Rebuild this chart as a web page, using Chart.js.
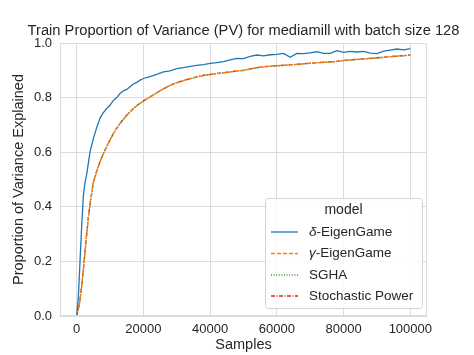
<!DOCTYPE html>
<html>
<head>
<meta charset="utf-8">
<script src="https://cdn.jsdelivr.net/npm/chart.js@4.4.1/dist/chart.umd.min.js"></script>
<style>
  html, body { margin: 0; padding: 0; background: #ffffff; }
  #wrap { width: 474px; height: 355px; position: relative; }
</style>
</head>
<body>
<div id="wrap"><canvas id="c" width="474" height="355"></canvas></div>
<script>
// ---- data ----
const samples = [0, 500, 1000, 1500, 2000, 2500, 3000, 3500, 4000,
  5000, 6000, 7000, 8000, 9000, 10000, 11000, 12000, 13000, 14000, 15000, 16000, 17000, 18000, 19000, 20000,
  22000, 24000, 26000, 28000, 30000, 32000, 34000, 36000, 38000, 40000, 42000, 44000, 46000, 48000, 50000,
  52000, 54000, 56000, 58000, 60000, 62000, 64000, 66000, 68000, 70000, 72000, 74000, 76000, 78000, 80000,
  82000, 84000, 86000, 88000, 90000, 92000, 94000, 96000, 98000, 100000];

const deltaEigenGame = [0, 0.07, 0.2, 0.33, 0.44, 0.49, 0.52, 0.56, 0.6,
  0.65, 0.69, 0.725, 0.745, 0.76, 0.772, 0.79, 0.8, 0.815, 0.825, 0.83, 0.84, 0.85, 0.856, 0.864, 0.87,
  0.877, 0.885, 0.894, 0.898, 0.906, 0.91, 0.914, 0.918, 0.921, 0.925, 0.928, 0.932, 0.938, 0.944, 0.943,
  0.951, 0.956, 0.953, 0.957, 0.958, 0.962, 0.948, 0.962, 0.961, 0.964, 0.968, 0.962, 0.962, 0.972, 0.966,
  0.969, 0.967, 0.969, 0.963, 0.961, 0.97, 0.974, 0.978, 0.975, 0.979];

const gammaEigenGame = [0, 0.025, 0.06, 0.11, 0.17, 0.235, 0.3, 0.36, 0.41,
  0.49, 0.53, 0.565, 0.595, 0.62, 0.645, 0.668, 0.688, 0.705, 0.72, 0.735, 0.748, 0.76, 0.77, 0.779, 0.787,
  0.803, 0.818, 0.832, 0.845, 0.855, 0.862, 0.869, 0.876, 0.881, 0.885, 0.888, 0.891, 0.894, 0.897, 0.9,
  0.905, 0.91, 0.913, 0.915, 0.917, 0.918, 0.92, 0.922, 0.924, 0.926, 0.928, 0.929, 0.93, 0.933, 0.936,
  0.938, 0.94, 0.942, 0.944, 0.946, 0.948, 0.95, 0.952, 0.954, 0.956];

const sgha = [0, 0.024, 0.059, 0.109, 0.169, 0.234, 0.299, 0.359, 0.409,
  0.489, 0.531, 0.564, 0.594, 0.621, 0.644, 0.667, 0.689, 0.704, 0.721, 0.734, 0.747, 0.761, 0.769, 0.78, 0.786,
  0.802, 0.817, 0.833, 0.844, 0.854, 0.863, 0.868, 0.875, 0.88, 0.884, 0.889, 0.89, 0.895, 0.896, 0.899,
  0.904, 0.909, 0.912, 0.914, 0.916, 0.917, 0.921, 0.921, 0.923, 0.925, 0.927, 0.93, 0.929, 0.932, 0.935,
  0.937, 0.939, 0.941, 0.943, 0.945, 0.947, 0.949, 0.951, 0.953, 0.955];

const stochasticPower = [0, 0.025, 0.06, 0.11, 0.17, 0.236, 0.3, 0.361, 0.41,
  0.49, 0.53, 0.566, 0.595, 0.62, 0.646, 0.668, 0.688, 0.706, 0.72, 0.736, 0.748, 0.76, 0.771, 0.779, 0.788,
  0.803, 0.818, 0.832, 0.845, 0.856, 0.862, 0.87, 0.876, 0.882, 0.885, 0.888, 0.892, 0.894, 0.898, 0.9,
  0.905, 0.91, 0.913, 0.916, 0.917, 0.919, 0.92, 0.922, 0.924, 0.926, 0.928, 0.929, 0.931, 0.933, 0.936,
  0.938, 0.94, 0.942, 0.944, 0.946, 0.948, 0.95, 0.952, 0.954, 0.956];

const seriesNames = ['δ-EigenGame', 'γ-EigenGame', 'SGHA', 'Stochastic Power'];
const xTickValues = [0, 20000, 40000, 60000, 80000, 100000];
const yTickValues = [0, 0.2, 0.4, 0.6, 0.8, 1.0];
const chartTitle = 'Train Proportion of Variance (PV) for mediamill with batch size 128';
const legendTitle = 'model';

// ---- chart ----
const FONT = '"Liberation Sans", Arial, sans-serif';
const TEXT = '#262626';
const GRID = '#dcdcdc';

function pts(arr) { return samples.map((x, i) => ({ x: x, y: arr[i] })); }

const styles = [
  { color: '#1f77b4', dash: [] },
  { color: '#ff7f0e', dash: [4, 2] },
  { color: '#2ca02c', dash: [1, 1.6] },
  { color: '#d62728', dash: [4, 1.5, 1, 1.5] }
];
const seriesData = [deltaEigenGame, gammaEigenGame, sgha, stochasticPower];

const datasets = seriesData.map((arr, i) => ({
  label: seriesNames[i],
  data: pts(arr),
  borderColor: styles[i].color,
  borderDash: styles[i].dash,
  borderWidth: 1.3,
  pointRadius: 0,
  fill: false,
  tension: 0
}));

const framePlugin = {
  id: 'frameAndLegend',
  afterDraw(chart) {
    const ctx = chart.ctx;
    const ca = chart.chartArea;
    ctx.save();
    // frame
    ctx.strokeStyle = GRID;
    ctx.lineWidth = 1;
    ctx.strokeRect(Math.round(ca.left) + 0.5, Math.round(ca.top) + 0.5,
      Math.round(ca.right - ca.left) - 1, Math.round(ca.bottom - ca.top) - 1);

    // title centred over the axes
    ctx.fillStyle = TEXT;
    ctx.font = '14.7px ' + FONT;
    ctx.textAlign = 'center';
    ctx.textBaseline = 'middle';
    ctx.fillText(chartTitle, (ca.left + ca.right) / 2, ca.top - 12);

    // legend
    const bw = 157, bh = 110;
    const bx = ca.right - 5 - bw, by = ca.bottom - 8 - bh;
    ctx.beginPath();
    if (ctx.roundRect) ctx.roundRect(bx + 0.5, by + 0.5, bw, bh, 3);
    else ctx.rect(bx + 0.5, by + 0.5, bw, bh);
    ctx.fillStyle = 'rgba(255,255,255,0.85)';
    ctx.fill();
    ctx.strokeStyle = '#d4d4d4';
    ctx.lineWidth = 1;
    ctx.stroke();

    ctx.fillStyle = TEXT;
    ctx.textBaseline = 'middle';
    ctx.textAlign = 'center';
    ctx.font = '14px ' + FONT;
    ctx.fillText(legendTitle, bx + bw / 2, by + 12);

    ctx.textAlign = 'left';
    const rowY = [34, 55.5, 77, 98];
    chart.data.datasets.forEach((ds, i) => {
      const y = by + rowY[i];
      ctx.beginPath();
      ctx.setLineDash(ds.borderDash);
      ctx.strokeStyle = ds.borderColor;
      ctx.lineWidth = 1.3;
      ctx.moveTo(bx + 6, y);
      ctx.lineTo(bx + 33, y);
      ctx.stroke();
      ctx.setLineDash([]);
      ctx.fillStyle = TEXT;
      const label = ds.label;
      const tx = bx + 44;
      const first = label.charAt(0);
      if (first === 'δ' || first === 'γ') {
        ctx.font = 'italic 13.5px ' + FONT;
        ctx.fillText(first, tx, y);
        const w = ctx.measureText(first).width;
        ctx.font = '13.5px ' + FONT;
        ctx.fillText(label.slice(1), tx + w, y);
      } else {
        ctx.font = '13.5px ' + FONT;
        ctx.fillText(label, tx, y);
      }
    });
    ctx.restore();
  }
};

new Chart(document.getElementById('c'), {
  type: 'line',
  data: { datasets: datasets },
  options: {
    responsive: false,
    animation: false,
    devicePixelRatio: 1,
    layout: { padding: { left: 0, right: 47, top: 43, bottom: 0 } },
    plugins: {
      legend: { display: false },
      tooltip: { enabled: false },
      title: { display: false }
    },
    scales: {
      x: {
        type: 'linear',
        min: -5000,
        max: 105000,
        afterBuildTicks: (s) => { s.ticks = xTickValues.map(v => ({ value: v })); },
        afterFit: (s) => { s.height = 39; },
        grid: { color: GRID, drawTicks: false, lineWidth: 1 },
        border: { display: true, color: GRID },
        ticks: {
          color: TEXT,
          font: { family: FONT, size: 13 },
          padding: 6,
          maxRotation: 0,
          callback: (v) => String(v)
        },
        title: {
          display: true,
          text: 'Samples',
          color: TEXT,
          font: { family: FONT, size: 14.5 },
          padding: { top: 0, bottom: 1 }
        }
      },
      y: {
        type: 'linear',
        min: 0,
        max: 1,
        afterBuildTicks: (s) => { s.ticks = yTickValues.map(v => ({ value: v })); },
        afterFit: (s) => { s.width = 60; },
        grid: { color: GRID, drawTicks: false, lineWidth: 1 },
        border: { display: true, color: GRID },
        ticks: {
          color: TEXT,
          font: { family: FONT, size: 13 },
          padding: 8,
          callback: (v) => Number(v).toFixed(1)
        },
        title: {
          display: true,
          text: 'Proportion of Variance Explained',
          color: TEXT,
          font: { family: FONT, size: 14.5 },
          padding: { top: 10, bottom: 0 }
        }
      }
    }
  },
  plugins: [framePlugin]
});
</script>
</body>
</html>
